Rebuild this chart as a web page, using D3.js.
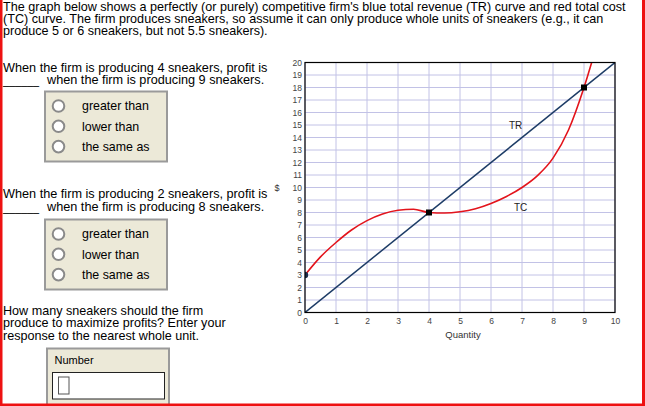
<!DOCTYPE html>
<html>
<head>
<meta charset="utf-8">
<script src="https://cdn.jsdelivr.net/npm/d3@7/dist/d3.min.js"></script>
<style>
html,body{margin:0;padding:0;background:#fff;}
svg{display:block;font-family:Arial,"Liberation Sans",sans-serif;}
</style>
</head>
<body>
<svg id="c" width="645" height="406"></svg>
<script>
// ---- data ----
const xTicks = [0,1,2,3,4,5,6,7,8,9,10];
const yTicks = [0,1,2,3,4,5,6,7,8,9,10,11,12,13,14,15,16,17,18,19,20];
const trQuantity = [0, 10];
const trRevenue = [0, 20];
const tcQuantity = [0,0.5,1,1.5,2,2.5,3,3.5,4,4.5,5,5.5,6,6.5,7,7.5,8,8.5,9,9.4];
const tcCost = [3,4.45,5.6,6.6,7.35,7.88,8.18,8.26,8.0,7.96,8.06,8.3,8.72,9.28,10.0,10.95,12.35,14.6,18,21.3];
const markQuantity = [4, 9];
const markValue = [8, 18];
const dotQuantity = [0];
const dotValue = [3];
const titleLines = [
  "The graph below shows a perfectly (or purely) competitive firm's blue total revenue (TR) curve and red total cost",
  "(TC) curve. The firm produces sneakers, so assume it can only produce whole units of sneakers (e.g., it can",
  "produce 5 or 6 sneakers, but not 5.5 sneakers)."
];
const q1Lines = ["When the firm is producing 4 sneakers, profit is", "when the firm is producing 9 sneakers."];
const q2Lines = ["When the firm is producing 2 sneakers, profit is", "when the firm is producing 8 sneakers."];
const q3Lines = ["How many sneakers should the firm", "produce to maximize profits? Enter your", "response to the nearest whole unit."];
const options = ["greater than", "lower than", "the same as"];

const svg = d3.select("#c");

// ---- text block ----
svg.append("g").selectAll("text").data(titleLines).join("text")
  .attr("x", 3).attr("y", (d,i)=>10.5 + i*12.3).attr("font-size", 12.6).attr("fill", "#000").text(d=>d);

function question(lines, y0) {
  const g = svg.append("g");
  g.append("text").attr("x", 3).attr("y", y0).attr("font-size", 12.7).text(lines[0]);
  g.append("text").attr("x", 3).attr("y", y0 + 12.6).attr("font-size", 12.7)
    .attr("textLength", 36).attr("lengthAdjust", "spacingAndGlyphs").text("______");
  g.append("text").attr("x", 47).attr("y", y0 + 12.6).attr("font-size", 12.7).text(lines[1]);
}
function optionBox(y0) {
  const g = svg.append("g");
  g.append("rect").attr("x", 45).attr("y", y0).attr("width", 122).attr("height", 70)
    .attr("fill", "#ece9d8").attr("stroke", "#9a9a9a").attr("stroke-width", 2);
  options.forEach((o,i)=>{
    const cy = y0 + 14.5 + i*20.3;
    g.append("circle").attr("cx", 58.5).attr("cy", cy).attr("r", 5.8)
      .attr("fill", "#fff").attr("stroke", "#8a8a8a").attr("stroke-width", 2);
    g.append("text").attr("x", 82).attr("y", cy + 4.4).attr("font-size", 12.4).text(o);
  });
}
question(q1Lines, 71.5);
optionBox(91.5);
question(q2Lines, 198.3);
optionBox(219.5);
svg.append("g").selectAll("text").data(q3Lines).join("text")
  .attr("x", 3).attr("y", (d,i)=>315 + i*12.4).attr("font-size", 12.6).text(d=>d);

// number box
svg.append("rect").attr("x", 47).attr("y", 348.5).attr("width", 122).attr("height", 60)
  .attr("fill", "#ece9d8").attr("stroke", "#9a9a9a").attr("stroke-width", 2);
svg.append("text").attr("x", 54.5).attr("y", 363.5).attr("font-size", 11).text("Number");
svg.append("rect").attr("x", 52.5).attr("y", 372.5).attr("width", 112).attr("height", 26.5)
  .attr("fill", "#fff").attr("stroke", "#222").attr("stroke-width", 1);
svg.append("rect").attr("x", 58.5).attr("y", 377).attr("width", 10.5).attr("height", 17)
  .attr("fill", "#fff").attr("stroke", "#555").attr("stroke-width", 1);

// ---- chart ----
const x = d3.scaleLinear().domain([0,10]).range([305, 615]);
const y = d3.scaleLinear().domain([0,20]).range([312.5, 62.5]);

svg.append("defs").append("clipPath").attr("id", "plotclip")
  .append("rect").attr("x", x(0)).attr("y", y(20)).attr("width", x(10)-x(0)).attr("height", y(0)-y(20));

const grid = svg.append("g");
grid.selectAll("line.v").data(xTicks).join("line").attr("class","v")
  .attr("x1", d=>x(d)).attr("x2", d=>x(d)).attr("y1", y(0)).attr("y2", y(20))
  .attr("stroke", "#c2c2e6").attr("stroke-width", 1);
grid.selectAll("line.h").data(yTicks).join("line").attr("class","h")
  .attr("x1", x(0)).attr("x2", x(10)).attr("y1", d=>y(d)).attr("y2", d=>y(d))
  .attr("stroke", "#c2c2e6").attr("stroke-width", 1);

const yAxis = svg.append("g").attr("transform", `translate(${x(0)-3},0)`)
  .call(d3.axisLeft(y).tickValues(yTicks).tickSize(0).tickPadding(0).tickFormat(d3.format("d")));
yAxis.select(".domain").remove();
yAxis.selectAll("text").attr("font-size", 8.5).attr("fill", "#444").attr("font-family", "Arial,'Liberation Sans',sans-serif");

const xAxis = svg.append("g").attr("transform", `translate(0,${y(0)+5})`)
  .call(d3.axisBottom(x).tickValues(xTicks).tickSize(0).tickPadding(0).tickFormat(d3.format("d")));
xAxis.select(".domain").remove();
xAxis.selectAll("text").attr("font-size", 8.5).attr("fill", "#444").attr("font-family", "Arial,'Liberation Sans',sans-serif");

svg.append("text").attr("x", (x(0)+x(10))/2 + 3).attr("y", 338).attr("text-anchor", "middle")
  .attr("font-size", 9.5).attr("fill", "#333").text("Quantity");
svg.append("text").attr("x", 277).attr("y", 191).attr("text-anchor", "middle")
  .attr("font-size", 9).attr("fill", "#333").text("$");

const plot = svg.append("g").attr("clip-path", "url(#plotclip)");
const trLine = d3.line().x(d=>x(d[0])).y(d=>y(d[1]));
plot.append("path").datum(d3.zip(trQuantity, trRevenue)).attr("d", trLine)
  .attr("fill", "none").attr("stroke", "#1d3c66").attr("stroke-width", 1.5);
const tcLine = d3.line().x(d=>x(d[0])).y(d=>y(d[1])).curve(d3.curveMonotoneX);
plot.append("path").datum(d3.zip(tcQuantity, tcCost)).attr("d", tcLine)
  .attr("fill", "none").attr("stroke", "#e3141c").attr("stroke-width", 1.6);
plot.selectAll("circle.dot").data(d3.zip(dotQuantity, dotValue)).join("circle").attr("class","dot")
  .attr("cx", d=>x(d[0])).attr("cy", d=>y(d[1])).attr("r", 3.2).attr("fill", "#1d2d4a");

svg.append("rect").attr("x", x(0)).attr("y", y(20)).attr("width", x(10)-x(0)).attr("height", y(0)-y(20))
  .attr("fill", "none").attr("stroke", "#000").attr("stroke-width", 1.2);

svg.selectAll("rect.mark").data(d3.zip(markQuantity, markValue)).join("rect").attr("class","mark")
  .attr("x", d=>x(d[0])-3).attr("y", d=>y(d[1])-3).attr("width", 6).attr("height", 6).attr("fill", "#000");

svg.append("text").attr("x", 509).attr("y", 129).attr("font-size", 10).attr("fill", "#222").text("TR");
svg.append("text").attr("x", 514).attr("y", 210.5).attr("font-size", 10).attr("fill", "#222").text("TC");

// page red frame (left, right, bottom)
svg.append("rect").attr("x", 0).attr("y", 0).attr("width", 2.5).attr("height", 406).attr("fill", "#ee1111");
svg.append("rect").attr("x", 642).attr("y", 0).attr("width", 3).attr("height", 406).attr("fill", "#ee1111");
svg.append("rect").attr("x", 0).attr("y", 403.5).attr("width", 645).attr("height", 2.5).attr("fill", "#ee1111");
</script>
</body>
</html>
